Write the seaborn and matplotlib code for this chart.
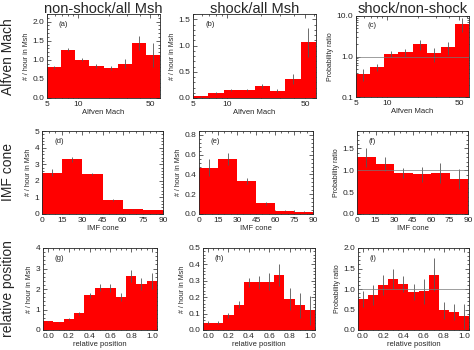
import numpy as np
import pandas as pd
import matplotlib
matplotlib.use("Agg")
import matplotlib.pyplot as plt
from matplotlib.ticker import AutoMinorLocator, LogLocator, NullFormatter, FixedLocator
import seaborn as sns

# bin edges
alfven_edges = [5, 6.85, 9.4, 12.9, 17.7, 24.2, 33.2, 45.5, 62.5]
cone_edges = [0, 15, 30, 45, 60, 75, 90]
pos_edges = [-0.05, 0.05, 0.15, 0.25, 0.35, 0.45, 0.55, 0.65, 0.75, 0.85, 0.95, 1.05]

# Alfven Mach row
a_vals = [0.80, 1.27, 1.00, 0.83, 0.78, 0.90, 1.45, 1.12]
a_err = [0.03, 0.05, 0.04, 0.05, 0.05, 0.12, 0.18, 0.32]
b_vals = [0.03, 0.09, 0.16, 0.15, 0.23, 0.14, 0.36, 1.06]
b_err = [0.01, 0.02, 0.02, 0.02, 0.04, 0.03, 0.10, 0.27]
c_vals = [0.37, 0.55, 1.18, 1.30, 2.00, 1.20, 1.70, 6.5]
c_err = [0.12, 0.10, 0.20, 0.25, 0.55, 0.45, 0.60, 2.5]

# IMF cone row
d_vals = [2.50, 3.30, 2.40, 0.85, 0.30, 0.25]
d_err = [0.20, 0.15, 0.06, 0.04, 0.03, 0.02]
e_vals = [0.47, 0.56, 0.33, 0.11, 0.035, 0.025]
e_err = [0.09, 0.06, 0.03, 0.015, 0.008, 0.006]
f_vals = [1.30, 1.15, 0.94, 0.91, 0.93, 0.80]
f_err = [0.22, 0.16, 0.12, 0.17, 0.23, 0.22]

# relative position row
g_vals = [0.42, 0.37, 0.55, 0.82, 1.70, 2.07, 2.05, 1.62, 2.65, 2.25, 2.38]
g_err = [0.04, 0.04, 0.05, 0.07, 0.12, 0.15, 0.18, 0.20, 0.30, 0.30, 0.40]
h_vals = [0.045, 0.045, 0.09, 0.155, 0.29, 0.29, 0.295, 0.335, 0.19, 0.15, 0.12]
h_err = [0.01, 0.01, 0.015, 0.02, 0.03, 0.04, 0.05, 0.065, 0.065, 0.075, 0.09]
i_vals = [0.75, 0.85, 1.10, 1.25, 1.12, 0.93, 0.94, 1.35, 0.48, 0.44, 0.33]
i_err = [0.20, 0.25, 0.25, 0.25, 0.20, 0.20, 0.30, 0.40, 0.20, 0.20, 0.30]

col_titles = ["non-shock/all Msh", "shock/all Msh", "shock/non-shock"]
row_titles = ["Alfven Mach", "IMF cone", "relative position"]
ylabels = ["# / hour in Msh", "# / hour in Msh", "Probability ratio"]

sns.set_style("ticks")
plt.rcParams["font.family"] = ["Liberation Sans", "DejaVu Sans"]

W, H = 474, 350
fig = plt.figure(figsize=(W / 100, H / 100), dpi=100)


def add_ax(x0, y0, x1, y1):
    return fig.add_axes([x0 / W, 1 - y1 / H, (x1 - x0) / W, (y1 - y0) / H])


def panel(ax, edges, vals, errs, logx=False):
    edges = np.array(edges, dtype=float)
    if logx:
        centers = np.sqrt(edges[:-1] * edges[1:])
        df = pd.DataFrame({"x": centers, "w": vals})
        sns.histplot(data=df, x="x", weights="w", bins=list(np.log10(edges)), log_scale=True,
                     color="red", alpha=1, linewidth=0, ax=ax)
    else:
        centers = 0.5 * (edges[:-1] + edges[1:])
        df = pd.DataFrame({"x": centers, "w": vals})
        sns.histplot(data=df, x="x", weights="w", bins=list(edges),
                     color="red", alpha=1, linewidth=0, ax=ax)
    ax.errorbar(centers, vals, yerr=errs, fmt="none", ecolor="#555555", elinewidth=0.6)
    ax.set_xlim(edges[0], edges[-1])
    ax.tick_params(which="both", direction="in", top=True, right=True, labelsize=6,
                   width=0.5, pad=2)
    ax.tick_params(which="major", length=3)
    ax.tick_params(which="minor", length=1.5)
    for s in ax.spines.values():
        s.set_linewidth(0.6)


rects = [
    [(47, 14, 160, 98), (193, 14, 316, 98), (356, 16, 469, 97)],
    [(42, 131, 163, 214), (199, 131, 313, 214), (357, 131, 468, 214)],
    [(43, 248, 157, 330), (203, 248, 315, 330), (358, 248, 469, 330)],
]
data = [
    [(a_vals, a_err), (b_vals, b_err), (c_vals, c_err)],
    [(d_vals, d_err), (e_vals, e_err), (f_vals, f_err)],
    [(g_vals, g_err), (h_vals, h_err), (i_vals, i_err)],
]
edges_rows = [alfven_edges, cone_edges, pos_edges]
ylims = [[(0, 2.2), (0, 1.6), (0.1, 10)],
         [(0, 5), (0, 0.84), (0, 1.9)],
         [(0, 4), (0, 0.5), (0, 2)]]
yticks = [[np.arange(0, 2.01, 0.5), np.arange(0, 1.51, 0.5), [0.1, 1, 10]],
          [np.arange(0, 6, 1), np.arange(0, 0.81, 0.2), np.arange(0, 1.51, 0.5)],
          [np.arange(0, 5, 1), np.arange(0, 0.51, 0.1), np.arange(0, 2.01, 0.5)]]
yfmt = [["{:.1f}", "{:.1f}", "{:.1f}"],
        ["{:.0f}", "{:.1f}", "{:.1f}"],
        ["{:.0f}", "{:.1f}", "{:.1f}"]]
letters = "abcdefghi"

for r in range(3):
    for c in range(3):
        ax = add_ax(*rects[r][c])
        vals, errs = data[r][c]
        logy = (r == 0 and c == 2)
        panel(ax, edges_rows[r], vals, errs, logx=(r == 0))
        if logy:
            ax.set_yscale("log")
        ax.set_ylim(*ylims[r][c])
        ax.yaxis.set_major_locator(FixedLocator(yticks[r][c]))
        ax.set_yticklabels([yfmt[r][c].format(t) for t in yticks[r][c]])
        if logy:
            ax.yaxis.set_minor_locator(LogLocator(base=10, subs=np.arange(2, 10)))
            ax.yaxis.set_minor_formatter(NullFormatter())
        else:
            ax.yaxis.set_minor_locator(AutoMinorLocator(5))
        if r == 0:
            ax.xaxis.set_major_locator(FixedLocator([5, 10, 50]))
            ax.set_xticklabels(["5", "10", "50"])
            ax.xaxis.set_minor_locator(LogLocator(base=10, subs=np.arange(2, 10)))
            ax.xaxis.set_minor_formatter(NullFormatter())
        elif r == 1:
            ax.set_xticks(np.arange(0, 91, 15))
            ax.xaxis.set_minor_locator(AutoMinorLocator(3))
        else:
            ax.set_xticks(np.arange(0, 1.01, 0.2))
            ax.set_xticklabels(["{:.1f}".format(t) for t in np.arange(0, 1.01, 0.2)])
            ax.xaxis.set_minor_locator(AutoMinorLocator(4))
        if c == 2:
            ax.axhline(1.0, color="#777777", linewidth=0.5)
        ax.set_xlabel(row_titles[r], fontsize=5.5, labelpad=1)
        ax.set_ylabel(ylabels[c], fontsize=5, labelpad=2)
        ax.text(0.1, 0.92, "(" + letters[r * 3 + c] + ")", transform=ax.transAxes,
                fontsize=5.5, va="top", ha="left")

col_x = [103, 255, 413]
for c in range(3):
    fig.text(col_x[c] / W, 1 - 9 / H, col_titles[c], fontsize=10.5, ha="center", va="center")
row_y = [57, 172, 289]
for r in range(3):
    fig.text(8 / W, 1 - row_y[r] / H, row_titles[r], fontsize=10, rotation=90,
             ha="center", va="center")

fig.savefig("out.png", dpi=100)
